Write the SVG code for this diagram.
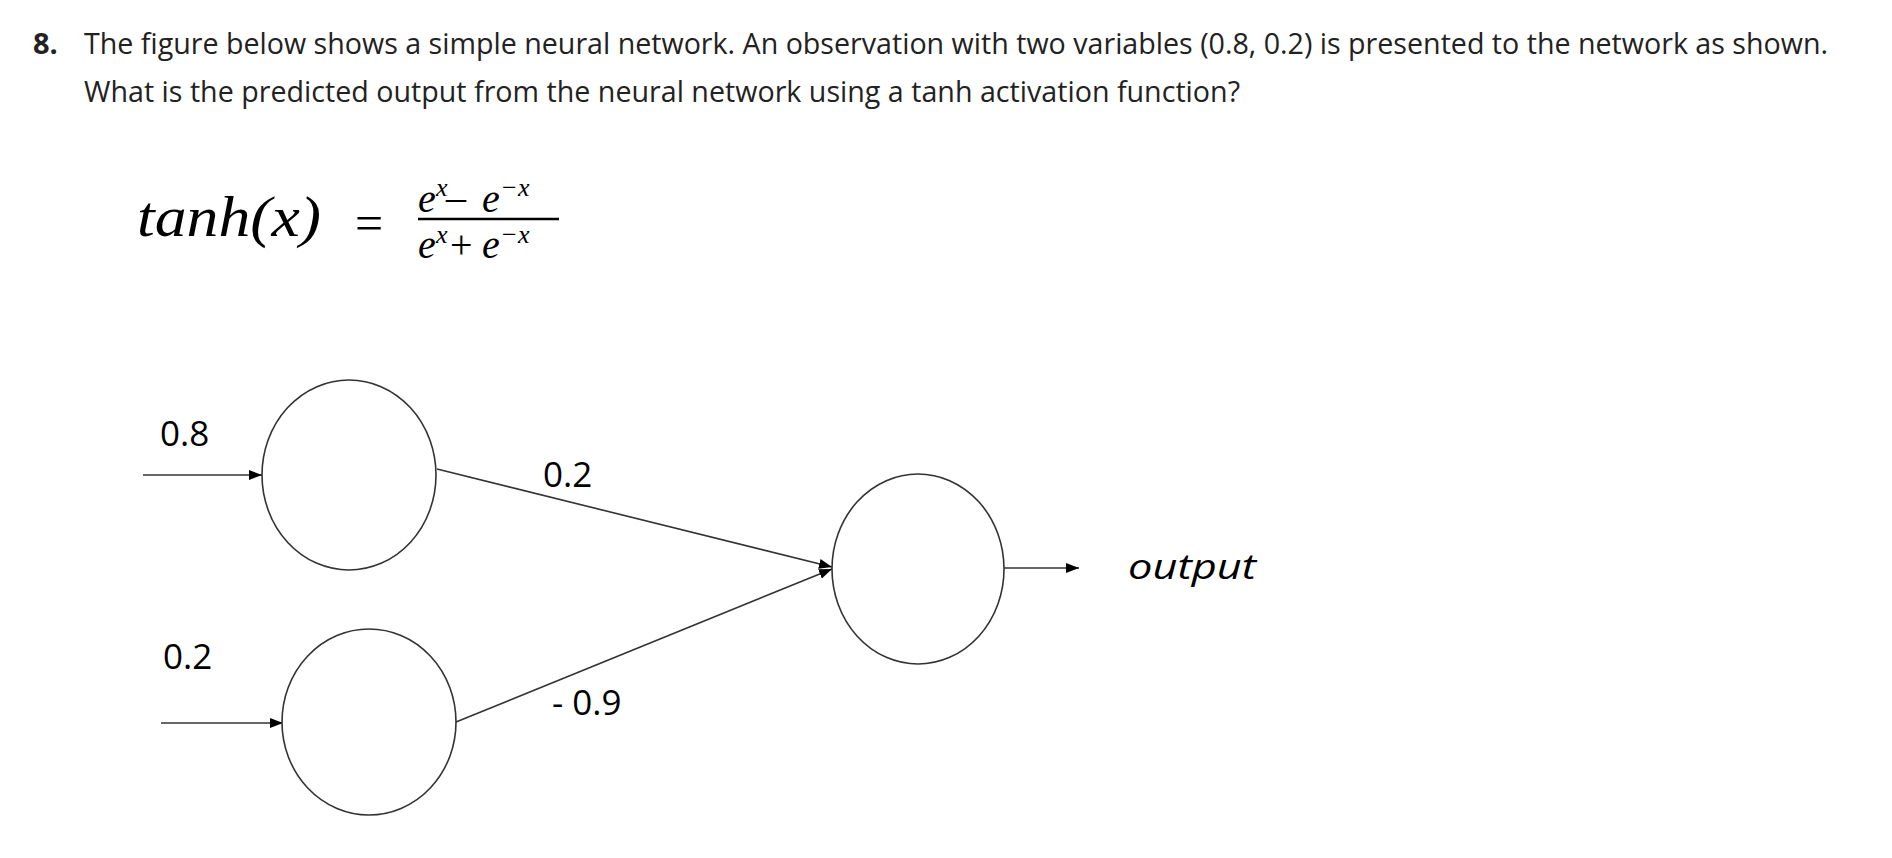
<svg xmlns="http://www.w3.org/2000/svg" width="1892" height="858" viewBox="0 0 1892 858">
<style>
.q{font-family:"Source Sans Pro","Open Sans","Liberation Sans",sans-serif;font-size:29px;fill:#222}
.m{font-family:"Liberation Serif",serif;font-style:italic;fill:#000}
.r{font-family:"Liberation Serif",serif;fill:#000}
.l{font-family:"Open Sans","DejaVu Sans",sans-serif;font-size:35px;fill:#000}
.n{fill:#fff;stroke:#333;stroke-width:1.6}
.c{stroke:#333;stroke-width:1.6;fill:none}
</style>
<defs><marker id="a" markerWidth="13" markerHeight="10" refX="13" refY="5" orient="auto" markerUnits="userSpaceOnUse"><path d="M0,0L13,5L0,10z" fill="#000"/></marker></defs>
<rect width="1892" height="858" fill="#fff"/>
<text class="q" x="33" y="54" font-weight="bold">8.</text>
<text class="q" x="84" y="54" textLength="1744" lengthAdjust="spacingAndGlyphs">The figure below shows a simple neural network. An observation with two variables (0.8, 0.2) is presented to the network as shown.</text>
<text class="q" x="84" y="102" textLength="1156" lengthAdjust="spacingAndGlyphs">What is the predicted output from the neural network using a tanh activation function?</text>
<g id="formula">
<text class="m" x="137" y="236" font-size="56" textLength="184" lengthAdjust="spacingAndGlyphs">tanh(x)</text>
<text class="r" x="355" y="240" font-size="50">=</text>
<text class="m" x="418" y="212" font-size="40">e</text>
<text class="m" x="436" y="196" font-size="26">x</text>
<text class="r" x="446" y="210" font-size="40">–</text>
<text class="m" x="482" y="212" font-size="40">e</text>
<text class="r" x="502" y="196" font-size="26">−</text>
<text class="m" x="518" y="196" font-size="26">x</text>
<line x1="418" y1="219" x2="559" y2="219" stroke="#000" stroke-width="2.5"/>
<text class="m" x="418" y="258" font-size="40">e</text>
<text class="m" x="436" y="243" font-size="26">x</text>
<text class="r" x="450" y="258" font-size="40">+</text>
<text class="m" x="482" y="258" font-size="40">e</text>
<text class="r" x="502" y="243" font-size="26">−</text>
<text class="m" x="518" y="243" font-size="26">x</text>
</g>
<g id="connectors">
<line class="c" x1="143" y1="475" x2="262" y2="475" marker-end="url(#a)"/>
<line class="c" x1="161" y1="723" x2="283" y2="723" marker-end="url(#a)"/>
<line class="c" x1="437" y1="469" x2="832" y2="567" marker-end="url(#a)"/>
<line class="c" x1="456" y1="722" x2="832" y2="569" marker-end="url(#a)"/>
<line class="c" x1="1004" y1="568" x2="1079" y2="568" marker-end="url(#a)"/>
</g>
<g id="n1"><ellipse class="n" cx="349" cy="475" rx="87" ry="95"/></g>
<g id="n2"><ellipse class="n" cx="369" cy="722" rx="87" ry="93"/></g>
<g id="n3"><ellipse class="n" cx="918" cy="569" rx="86" ry="95"/></g>
<text class="l" x="160" y="446">0.8</text>
<text class="l" x="163" y="669">0.2</text>
<text class="l" x="543" y="487">0.2</text>
<text class="l" x="552" y="715">- 0.9</text>
<text class="l" x="1128" y="579" font-style="italic" textLength="128" lengthAdjust="spacingAndGlyphs">output</text>
</svg>
